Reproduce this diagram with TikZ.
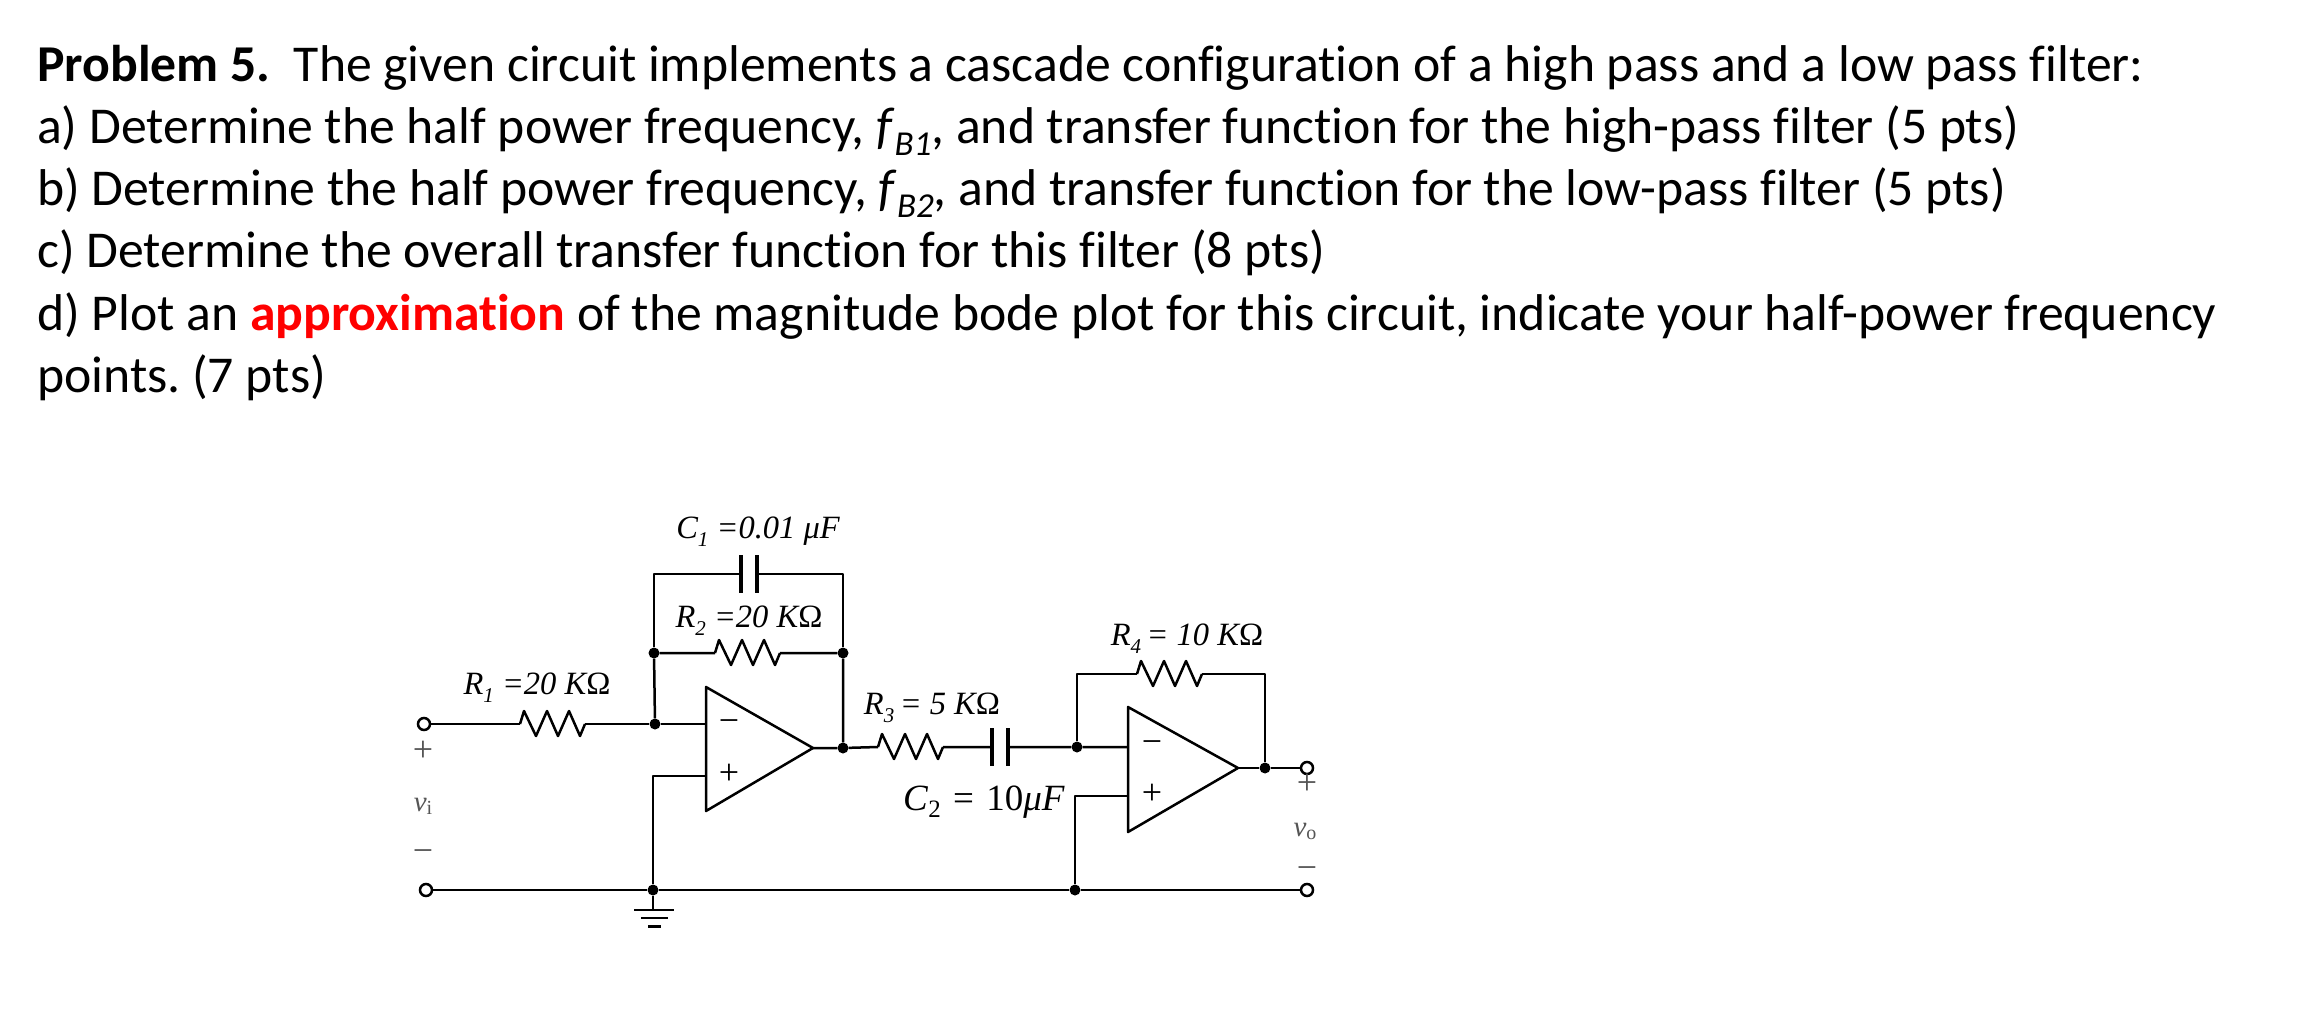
\documentclass[tikz,border=0pt]{standalone}
\usepackage{fontspec}
\setmainfont[Ligatures=NoCommon]{Carlito}
\newfontfamily\circfont{Liberation Serif}
\newcommand{\fB}[1]{\textit{f}\raisebox{-0.22em}{\fontsize{35}{35}\selectfont\itshape #1}}
\newcommand{\sbs}[1]{\raisebox{-0.25em}{\fontsize{21}{21}\selectfont #1}}
\definecolor{signgray}{HTML}{555555}
\tikzset{
  wire/.style={line width=2.5pt, line join=round},
  prob/.style={anchor=base west, inner sep=0pt, font=\fontsize{51.7}{60}\selectfont\frenchspacing},
  val/.style={inner sep=0pt, font=\circfont\itshape\fontsize{32.5}{38}\selectfont},
  sign/.style={inner sep=0pt, font=\circfont\fontsize{36}{40}\selectfont},
  dot/.style={circle, fill=black, inner sep=0pt, minimum size=11pt},
  term/.style={circle, draw=black, line width=2.5pt, fill=white, inner sep=0pt, minimum size=12pt},
  resistor/.pic={
    \draw[wire] (0,0) -- (4,-13) -- (16,12) -- (27,-13) -- (38,12) -- (49,-13) -- (60,12) -- (65,0);
    \coordinate (-in) at (0,0);
    \coordinate (-out) at (65,0);
  },
  capacitor/.pic={
    \draw[line width=4pt] (0,-19) -- (0,19) (16,-19) -- (16,19);
    \coordinate (-in) at (0,0);
    \coordinate (-out) at (16,0);
  }
}
\begin{document}
\begin{tikzpicture}[x=1pt, y=-1pt]
  \useasboundingbox (0,0) rectangle (2314,1024);
  % problem text
  \node[prob] (l1) at (37,82) {\textbf{Problem 5.}\ \ The given circuit implements a cascade configuration of a high pass and a low pass filter:};
  \node[prob] (l2) at (37,144) {a) Determine the half power frequency, \fB{B1}, and transfer function for the high-pass filter (5 pts)};
  \node[prob] (l3) at (37,206) {b) Determine the half power frequency, \fB{B2}, and transfer function for the low-pass filter (5 pts)};
  \node[prob] (l4) at (37,268) {c) Determine the overall transfer function for this filter (8 pts)};
  \node[prob] (l5) at (37,330) {d) Plot an \textcolor{red}{\textbf{approximation}} of the magnitude bode plot for this circuit, indicate your half-power frequency};
  \node[prob] (l6) at (37,392) {points. (7 pts)};

  % first op amp
  \coordinate (op1a) at (706,687);
  \coordinate (op1b) at (706,811);
  \coordinate (op1t) at (813,748);
  \coordinate (op1m) at (706,724);
  \coordinate (op1p) at (706,776);
  \draw[wire] (op1a) -- (op1t) -- (op1b) -- cycle;
  \node[sign] (op1ms) at (729,726) {\textminus};
  \node[sign] (op1ps) at (729,774) {+};

  % second op amp
  \coordinate (op2a) at (1128,707);
  \coordinate (op2b) at (1128,832);
  \coordinate (op2t) at (1238,768);
  \coordinate (op2m) at (1128,747);
  \coordinate (op2p) at (1128,796);
  \draw[wire] (op2a) -- (op2t) -- (op2b) -- cycle;
  \node[sign] (op2ms) at (1152,747) {\textminus};
  \node[sign] (op2ps) at (1152,794) {+};

  % terminals and junctions
  \node[term] (vip) at (424,724) {};
  \node[term] (vim) at (426,890) {};
  \node[term] (vop) at (1307,768) {};
  \node[term] (vom) at (1307,890) {};
  \node[dot] (j1) at (655,724) {};
  \node[dot] (j2) at (654,653) {};
  \node[dot] (j3) at (843,653) {};
  \node[dot] (j4) at (843,748) {};
  \node[dot] (j5) at (1077,747) {};
  \node[dot] (j6) at (1265,768) {};
  \node[dot] (g1) at (653,890) {};
  \node[dot] (g2) at (1075,890) {};

  % parts
  \pic (r1) at (520,724) {resistor};
  \pic (r2) at (715,653) {resistor};
  \pic (r3) at (878,747) {resistor};
  \pic (r4) at (1137,674) {resistor};
  \pic (c1) at (741,574) {capacitor};
  \pic (c2) at (992,747) {capacitor};

  % wires
  \draw[wire] (vip) -- (r1-in) (r1-out) -- (j1) -- (op1m);
  \draw[wire] (j1) -- (j2) -- (r2-in) (r2-out) -- (j3) -- (j4);
  \draw[wire] (j2) |- (c1-in) (c1-out) -| (j3);
  \draw[wire] (op1t) -- (j4) -- (r3-in) (r3-out) -- (c2-in) (c2-out) -- (j5) -- (op2m);
  \draw[wire] (j5) |- (r4-in) (r4-out) -| (j6);
  \draw[wire] (op2t) -- (j6) -- (vop);
  \draw[wire] (op1p) -| (g1);
  \draw[wire] (op2p) -| (g2);
  \draw[wire] (vim) -- (g1) -- (g2) -- (vom);

  % ground
  \coordinate (gnd) at (653,910);
  \draw[wire] (g1) -- (gnd);
  \draw[wire] (634,910) -- (674,910) (641,918) -- (668,918);
  \draw[line width=3pt] (648,926) -- (661,926);

  % labels
  \node[val] (c1v) at (758,532) {C\sbs{1} =0.01 μF};
  \node[val] (r2v) at (749,621) {R\sbs{2} =20 K{\upshape Ω}};
  \node[val] (r1v) at (537,688) {R\sbs{1} =20 K{\upshape Ω}};
  \node[val] (r3v) at (932,708) {R\sbs{3}\,= 5 K{\upshape Ω}};
  \node[val] (r4v) at (1187,639) {R\sbs{4}\,= 10 K{\upshape Ω}};
  \node[inner sep=0pt, font=\circfont\fontsize{37}{42}\selectfont] (c2v) at (984,802) {\textit{C}\raisebox{-0.2em}{\fontsize{25}{25}\selectfont 2}\,\,=\,\,10\textit{μF}};
  \node[sign, text=signgray] (vips) at (423,751) {+};
  \node[sign, text=signgray, font=\circfont\itshape\fontsize{29}{32}\selectfont] (vil) at (423,806) {v\raisebox{-0.1em}{\fontsize{20}{20}\selectfont\upshape i}};
  \node[sign, text=signgray] (vims) at (423,856) {\textminus};
  \node[sign, text=signgray] (vops) at (1307,784) {+};
  \node[sign, text=signgray, font=\circfont\itshape\fontsize{29}{32}\selectfont] (vol) at (1305,831) {v\raisebox{-0.1em}{\fontsize{20}{20}\selectfont\upshape o}};
  \node[sign, text=signgray] (voms) at (1307,873) {\textminus};
\end{tikzpicture}
\end{document}
